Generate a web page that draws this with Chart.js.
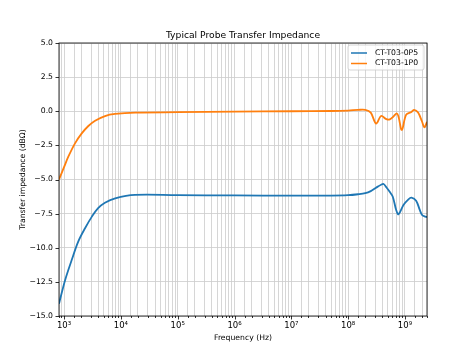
<!DOCTYPE html>
<html>
<head>
<meta charset="utf-8">
<script src="https://cdn.jsdelivr.net/npm/chart.js@4/dist/chart.umd.min.js"></script>
<style>
html,body{margin:0;padding:0;background:#fff;}
#wrap{width:474px;height:355px;}
</style>
</head>
<body>
<div id="wrap"><canvas id="c" width="474" height="355"></canvas></div>
<script>
// ---- data ----
const chartTitle = 'Typical Probe Transfer Impedance';
const xLabel = 'Frequency (Hz)';
const yLabel = 'Transfer impedance (dBΩ)';
const seriesNames = ['CT-T03-0P5', 'CT-T03-1P0'];
const freqsP5 = [816, 1047, 1365, 1778, 2344, 3090, 3981, 5248, 7943, 17780, 1e5, 1e6, 1e7, 5e7, 1e8, 1.5e8, 2e8, 2.5e8, 3.1e8, 3.8e8, 4.2e8, 4.7e8, 5.5e8, 6.1e8, 7e8, 7.7e8, 9.4e8, 1.15e9, 1.3e9, 1.57e9, 1.82e9, 2e9, 2.2e9, 2.44e9];
const zP5 = [-14.1, -12.36, -10.9, -9.55, -8.57, -7.72, -7.1, -6.7, -6.38, -6.13, -6.15, -6.17, -6.18, -6.18, -6.15, -6.08, -6.0, -5.85, -5.6, -5.38, -5.33, -5.57, -5.96, -6.26, -7.23, -7.55, -6.87, -6.45, -6.33, -6.55, -7.23, -7.6, -7.7, -7.75];
const freqs1P0 = [816, 1000, 1190, 1560, 2050, 2680, 3520, 5260, 7900, 1.8e4, 1e5, 1e6, 1e7, 5e7, 1e8, 1.5e8, 2e8, 2.5e8, 3.1e8, 3.8e8, 4.7e8, 5.4e8, 6.2e8, 7.2e8, 7.7e8, 8.8e8, 1.05e9, 1.3e9, 1.45e9, 1.7e9, 2e9, 2.2e9, 2.44e9];
const z1P0 = [-5.0, -4.1, -3.33, -2.35, -1.62, -1.08, -0.69, -0.35, -0.2, -0.1, -0.07, -0.03, 0.0, 0.02, 0.05, 0.1, 0.1, -0.1, -0.9, -0.35, -0.58, -0.6, -0.4, -0.15, -0.4, -1.37, -0.25, -0.05, 0.1, -0.1, -0.77, -1.18, -0.77];
const yTicks = [-15, -12.5, -10, -7.5, -5, -2.5, 0, 2.5, 5];
const xMin = 816, xMax = 2.44e9;
const colors = ['#1f77b4', '#ff7f0e'];

const FONT = '"DejaVu Sans", Verdana, sans-serif';
const SUP = {'0':'⁰','1':'¹','2':'²','3':'³','4':'⁴','5':'⁵','6':'⁶','7':'⁷','8':'⁸','9':'⁹','-':'⁻'};
function isDecade(v){ const e = Math.log10(v); return Math.abs(e - Math.round(e)) < 1e-9; }
function supLabel(v){ const e = Math.round(Math.log10(v)); return '10' + String(e).split('').map(c => SUP[c]).join(''); }

const decor = {
  id: 'decor',
  beforeDraw(chart){
    const ctx = chart.ctx;
    ctx.save(); ctx.fillStyle = '#fff'; ctx.fillRect(0,0,chart.width,chart.height); ctx.restore();
  },
  afterDraw(chart){
    const ctx = chart.ctx, a = chart.chartArea;
    const xs = chart.scales.x, ys = chart.scales.y;
    ctx.save();
    // frame
    ctx.strokeStyle = '#000'; ctx.lineWidth = 0.8;
    ctx.strokeRect(a.left, a.top, a.right - a.left, a.bottom - a.top);
    // tick marks
    ctx.beginPath();
    xs.ticks.forEach(t => {
      if (t.value < xMin || t.value > xMax) return;
      const px = Math.round(xs.getPixelForValue(t.value)) + 0.5;
      const len = isDecade(t.value) ? 3.5 : 2;
      ctx.moveTo(px, a.bottom); ctx.lineTo(px, a.bottom + len);
    });
    ys.ticks.forEach(t => {
      const py = Math.round(ys.getPixelForValue(t.value)) + 0.5;
      ctx.moveTo(a.left, py); ctx.lineTo(a.left - 3.5, py);
    });
    ctx.stroke();
    // title
    ctx.fillStyle = '#000';
    ctx.font = '9.2px ' + FONT;
    ctx.textAlign = 'center'; ctx.textBaseline = 'alphabetic';
    ctx.fillText(chartTitle, (a.left + a.right) / 2, 38);
    // axis labels
    ctx.font = '7.7px ' + FONT;
    ctx.textBaseline = 'middle';
    ctx.fillText(xLabel, (a.left + a.right) / 2, 338);
    ctx.save();
    ctx.translate(23, (a.top + a.bottom) / 2);
    ctx.rotate(-Math.PI / 2);
    ctx.fillText(yLabel, 0, 0);
    ctx.restore();
    // legend
    const lx = 348, ly = 45, lw = 76, lh = 25, r = 2;
    ctx.beginPath();
    ctx.moveTo(lx + r, ly); ctx.lineTo(lx + lw - r, ly); ctx.quadraticCurveTo(lx + lw, ly, lx + lw, ly + r);
    ctx.lineTo(lx + lw, ly + lh - r); ctx.quadraticCurveTo(lx + lw, ly + lh, lx + lw - r, ly + lh);
    ctx.lineTo(lx + r, ly + lh); ctx.quadraticCurveTo(lx, ly + lh, lx, ly + lh - r);
    ctx.lineTo(lx, ly + r); ctx.quadraticCurveTo(lx, ly, lx + r, ly);
    ctx.closePath();
    ctx.fillStyle = 'rgba(255,255,255,0.8)'; ctx.fill();
    ctx.strokeStyle = '#cccccc'; ctx.lineWidth = 0.8; ctx.stroke();
    chart.data.datasets.forEach((ds, i) => {
      const yy = ly + 8 + i * 10.5;
      ctx.strokeStyle = ds.borderColor; ctx.lineWidth = 1.5;
      ctx.beginPath(); ctx.moveTo(lx + 3, yy); ctx.lineTo(lx + 19, yy); ctx.stroke();
      ctx.fillStyle = '#000'; ctx.textAlign = 'left'; ctx.textBaseline = 'middle';
      ctx.fillText(ds.label, lx + 27, yy);
    });
    ctx.restore();
  }
};

new Chart(document.getElementById('c'), {
  type: 'line',
  data: {
    datasets: [
      { label: seriesNames[0], data: freqsP5.map((f, i) => ({x: f, y: zP5[i]})), borderColor: colors[0], backgroundColor: colors[0] },
      { label: seriesNames[1], data: freqs1P0.map((f, i) => ({x: f, y: z1P0[i]})), borderColor: colors[1], backgroundColor: colors[1] }
    ]
  },
  options: {
    responsive: false,
    animation: false,
    devicePixelRatio: 1,
    layout: { padding: { top: 43, right: 47, left: 0, bottom: 0 } },
    elements: {
      point: { radius: 0 },
      line: { borderWidth: 1.8, tension: 0.35, fill: false }
    },
    plugins: { legend: { display: false }, title: { display: false }, tooltip: { enabled: false } },
    scales: {
      x: {
        type: 'logarithmic',
        min: xMin, max: xMax,
        afterFit(s){ s.height = 39; },
        border: { display: false },
        grid: { color: '#cccccc', lineWidth: 0.8, drawTicks: false },
        ticks: {
          autoSkip: false, maxRotation: 0, minRotation: 0, padding: 5,
          color: '#000', font: { family: FONT, size: 8.5 },
          callback: (v) => isDecade(v) ? supLabel(v) : ''
        }
      },
      y: {
        type: 'linear',
        min: -15, max: 5,
        afterFit(s){ s.width = 59; },
        afterBuildTicks(s){ s.ticks = yTicks.map(v => ({value: v})); },
        border: { display: false },
        grid: { color: '#cccccc', lineWidth: 0.8, drawTicks: false },
        ticks: {
          padding: 6, color: '#000', font: { family: FONT, size: 7.7 },
          callback: (v) => v.toFixed(1).replace('-', '\u2212')
        }
      }
    }
  },
  plugins: [decor]
});
</script>
</body>
</html>
